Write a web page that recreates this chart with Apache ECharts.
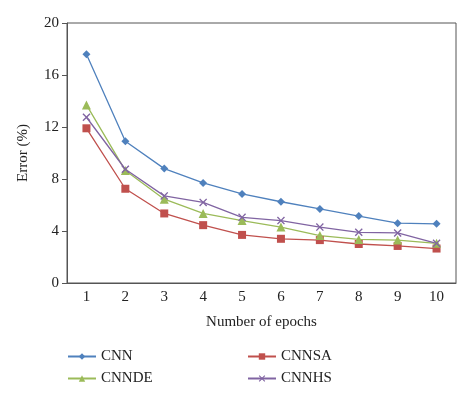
<!DOCTYPE html>
<html>
<head>
<meta charset="utf-8">
<script src="https://cdn.jsdelivr.net/npm/echarts@6/dist/echarts.min.js"></script>
<style>
  html, body { margin: 0; padding: 0; background: #fff; }
  #main { width: 474px; height: 398px; }
</style>
</head>
<body>
<div id="main"></div>
<script>
// epochs on the x axis
var epochs = ['1', '2', '3', '4', '5', '6', '7', '8', '9', '10'];

// error (%)
var cnn   = [17.6, 10.9, 8.8, 7.7, 6.85, 6.25, 5.7, 5.15, 4.6, 4.55];
var cnnsa = [11.9, 7.25, 5.35, 4.45, 3.7, 3.4, 3.3, 3.0, 2.85, 2.65];
var cnnde = [13.7, 8.65, 6.45, 5.35, 4.8, 4.3, 3.65, 3.35, 3.3, 3.05];
var cnnhs = [12.75, 8.75, 6.7, 6.2, 5.05, 4.8, 4.3, 3.9, 3.85, 3.05];

var serif = '"Liberation Serif", "DejaVu Serif", serif';
// thin x-shaped marker (filled outline so it draws like a cross)
var cross = 'path://M0,1.2L1.2,0L5,3.8L8.8,0L10,1.2L6.2,5L10,8.8L8.8,10L5,6.2L1.2,10L0,8.8L3.8,5Z';

function line(name, data, color, symbol, size) {
	return {
		name : name,
		type : 'line',
		data : data,
		symbol : symbol,
		symbolSize : size,
		showAllSymbol : true,
		itemStyle : { color : color },
		lineStyle : { color : color, width : 1.3 },
		emphasis : { disabled : true }
	};
}

var legendText = { fontFamily : serif, fontSize : 15, color : '#222' };

var myChart = echarts.init(document.getElementById('main'));
var option = {
	animation : false,
	textStyle : { fontFamily : serif },
	grid : {
		left : 67,
		right : 18,
		top : 23,
		bottom : 115,
		show : true,
		borderColor : '#555',
		borderWidth : 1
	},
	legend : [ {
		left : 62,
		top : 344,
		orient : 'vertical',
		itemWidth : 28,
		itemHeight : 8,
		itemGap : 7,
		textStyle : legendText,
		data : [ 'CNN', 'CNNDE' ]
	}, {
		left : 242,
		top : 344,
		orient : 'vertical',
		itemWidth : 28,
		itemHeight : 8,
		itemGap : 7,
		textStyle : legendText,
		data : [ 'CNNSA', 'CNNHS' ]
	} ],
	xAxis : {
		type : 'category',
		data : epochs,
		boundaryGap : true,
		name : 'Number of epochs',
		nameLocation : 'middle',
		nameGap : 32,
		nameTextStyle : { fontFamily : serif, fontSize : 15, color : '#222' },
		axisLine : { lineStyle : { color : '#555', width : 1 } },
		axisTick : { show : false },
		axisLabel : { fontFamily : serif, fontSize : 15, color : '#222', margin : 7 }
	},
	yAxis : {
		type : 'value',
		min : 0,
		max : 20,
		interval : 4,
		name : 'Error (%)',
		nameLocation : 'middle',
		nameGap : 36,
		nameTextStyle : { fontFamily : serif, fontSize : 15, color : '#222' },
		axisLine : { show : true, lineStyle : { color : '#555', width : 1 } },
		axisTick : { show : true, length : 5, lineStyle : { color : '#555' } },
		splitLine : { show : false },
		axisLabel : { fontFamily : serif, fontSize : 15, color : '#222', margin : 8 }
	},
	series : [
		line('CNN', cnn, '#4f81bd', 'diamond', 8),
		line('CNNSA', cnnsa, '#c0504d', 'rect', 8),
		line('CNNDE', cnnde, '#9bbb59', 'triangle', 9),
		line('CNNHS', cnnhs, '#8064a2', cross, 8)
	]
};
myChart.setOption(option);
</script>
</body>
</html>
